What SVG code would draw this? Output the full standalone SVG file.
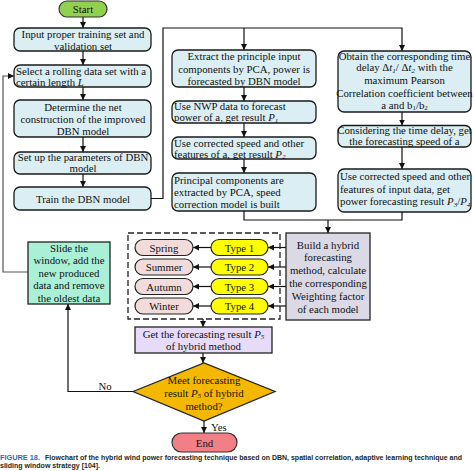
<svg xmlns="http://www.w3.org/2000/svg" width="474" height="471" viewBox="0 0 474 471">
<defs>
<marker id="ah" markerUnits="userSpaceOnUse" markerWidth="6" markerHeight="6" refX="6" refY="3" orient="auto">
<path d="M0,0 L6,3 L0,6 z" fill="#111"/>
</marker>
<style>
.box{fill:#daeef3;stroke:#1a1a1a;stroke-width:1.3}
.pl{stroke:#222;stroke-width:1.2}
.t{font-family:"Liberation Serif","Times New Roman",serif;font-size:10.8px;fill:#111}
.c{text-anchor:middle}
.i{font-style:italic}
.s{font-size:7px;font-style:italic}
.cn{fill:none;stroke:#111;stroke-width:1.2}
.ar{marker-end:url(#ah)}
.cap{font-family:"Liberation Sans",Arial,sans-serif;font-weight:bold;font-size:7.2px}
</style>
</defs>
<rect width="474" height="471" fill="#fff"/>

<g id="connectors">
<path class="cn ar" d="M83,17 V28"/>
<path class="cn ar" d="M83,51 V65"/>
<path class="cn ar" d="M83,87 V100"/>
<path class="cn ar" d="M83,137 V152"/>
<path class="cn ar" d="M83,174 V187"/>
<path class="cn ar" d="M151,198.5 H163 V28 H402 V51"/>
<path class="cn ar" d="M244,28 V50"/>
<path class="cn ar" d="M244,87 V101"/>
<path class="cn ar" d="M244,123 V137"/>
<path class="cn ar" d="M244,159 V173"/>
<path class="cn ar" d="M402,112 V125.5"/>
<path class="cn ar" d="M402,147 V169"/>
<path class="cn" d="M244,211 V220 H402 V212"/>
<path class="cn ar" d="M328,220 V233"/>
<path class="cn ar" d="M286,247.5 H268"/>
<path class="cn ar" d="M286,267 H268"/>
<path class="cn ar" d="M286,286.5 H268"/>
<path class="cn ar" d="M286,306 H268"/>
<path class="cn ar" d="M211,247.5 H193"/>
<path class="cn ar" d="M211,267 H193"/>
<path class="cn ar" d="M211,286.5 H193"/>
<path class="cn ar" d="M211,306 H193"/>
<path class="cn ar" d="M203,319 V327"/>
<path class="cn ar" d="M203,353 V363"/>
<path class="cn ar" d="M204,421 V433"/>
<path class="cn ar" d="M133,391.5 H68 V304"/>
<path class="cn ar" d="M28,272 H3 V76 H14" style="stroke:#555"/>
</g>

<g id="start">
<rect x="59" y="1" width="48" height="16" rx="8" fill="#92d050" stroke="#333" stroke-width="1.2"/>
<text class="t c" x="83" y="13">Start</text>
</g>

<g id="n1">
<rect class="box" x="14" y="28" width="137" height="23" rx="6"/>
<text class="t c" x="83" y="37.5">Input proper training set and</text>
<text class="t c" x="83" y="49.5">validation set</text>
</g>
<g id="n2">
<rect class="box" x="14" y="65" width="137" height="22" rx="6"/>
<text class="t" x="16" y="74.5">Select a rolling data set with a</text>
<text class="t" x="16" y="85.5">certain length <tspan class="i">L</tspan></text>
</g>
<g id="n3">
<rect class="box" x="14" y="100" width="137" height="37" rx="6"/>
<text class="t c" x="83" y="111">Determine the net</text>
<text class="t c" x="83" y="123">construction of the improved</text>
<text class="t c" x="83" y="134.5">DBN model</text>
</g>
<g id="n4">
<rect class="box" x="14" y="152" width="137" height="22" rx="6"/>
<text class="t c" x="83" y="161">Set up the parameters of DBN</text>
<text class="t c" x="83" y="172">model</text>
</g>
<g id="n5">
<rect class="box" x="14" y="187" width="137" height="23" rx="6"/>
<text class="t c" x="83" y="202.5">Train the DBN model</text>
</g>

<g id="n6">
<rect class="box" x="172" y="50" width="144" height="37" rx="6"/>
<text class="t c" x="244" y="60">Extract the principle input</text>
<text class="t c" x="244" y="72.5">components by PCA, power is</text>
<text class="t c" x="244" y="85">forecasted by DBN model</text>
</g>
<g id="n7">
<rect class="box" x="172" y="101" width="144" height="22" rx="6"/>
<text class="t" x="174" y="110">Use NWP data to forecast</text>
<text class="t" x="174" y="121">power of a, get result <tspan class="i">P</tspan><tspan class="s" dy="1.5">1</tspan></text>
</g>
<g id="n8">
<rect class="box" x="172" y="137" width="144" height="22" rx="6"/>
<text class="t" x="174" y="146.5">Use corrected speed and other</text>
<text class="t" x="174" y="157.5">features of a, get result <tspan class="i">P</tspan><tspan class="s" dy="1.5">2</tspan></text>
</g>
<g id="n9">
<rect class="box" x="172" y="173" width="144" height="38" rx="6"/>
<text class="t" x="174" y="184">Principal components are</text>
<text class="t" x="174" y="196">extracted by PCA, speed</text>
<text class="t" x="174" y="207.5">correction model is built</text>
</g>

<g id="n10">
<rect class="box" x="338" y="51" width="133" height="61" rx="6"/>
<text class="t c" x="404.5" y="59.5">Obtain the corresponding time</text>
<text class="t c" x="404.5" y="71">delay Δ<tspan class="i">t</tspan><tspan class="s" dy="1.5">1</tspan><tspan dy="-1.5">/ Δ</tspan><tspan class="i">t</tspan><tspan class="s" dy="1.5">2</tspan><tspan dy="-1.5"> with the</tspan></text>
<text class="t c" x="404.5" y="84">maximum Pearson</text>
<text class="t c" x="404.5" y="96.5">Correlation coefficient between</text>
<text class="t c" x="404.5" y="108.5">a and b<tspan font-size="7" dy="1.5">1</tspan><tspan dy="-1.5">/b</tspan><tspan font-size="7" dy="1.5">2</tspan></text>
</g>
<g id="n11">
<rect class="box" x="338" y="125.5" width="133" height="21.5" rx="6"/>
<text class="t c" x="404.5" y="134">Considering the time delay, get</text>
<text class="t c" x="404.5" y="145">the forecasting speed of a</text>
</g>
<g id="n12">
<rect class="box" x="338" y="169" width="133" height="43" rx="6"/>
<text class="t" x="340" y="180">Use corrected speed and other</text>
<text class="t" x="340" y="192.5">features of input data, get</text>
<text class="t" x="340" y="205">power forecasting result <tspan class="i">P</tspan><tspan class="s" dy="1.5">3</tspan><tspan dy="-1.5">/</tspan><tspan class="i">P</tspan><tspan class="s" dy="1.5">4</tspan></text>
</g>

<g id="hybrid">
<rect x="286" y="233" width="84" height="87" fill="#dcd9e6" stroke="#222" stroke-width="1.3"/>
<text class="t c" x="328" y="248.5">Build a hybrid</text>
<text class="t c" x="328" y="261.4">forecasting</text>
<text class="t c" x="328" y="274.3">method, calculate</text>
<text class="t c" x="328" y="287.2">the corresponding</text>
<text class="t c" x="328" y="300.1">Weighting factor</text>
<text class="t c" x="328" y="313">of each model</text>
</g>

<g id="typegroup">
<rect x="128" y="233" width="152" height="86" fill="none" stroke="#222" stroke-width="1.3" stroke-dasharray="6,3"/>
</g>
<g id="spring"><rect class="pl" x="135" y="239.5" width="58" height="16" rx="8" fill="#f2dcdb"/><text class="t c" x="164" y="251.5">Spring</text></g>
<g id="summer"><rect class="pl" x="135" y="259" width="58" height="16" rx="8" fill="#f2dcdb"/><text class="t c" x="164" y="271">Summer</text></g>
<g id="autumn"><rect class="pl" x="135" y="278.5" width="58" height="16" rx="8" fill="#f2dcdb"/><text class="t c" x="164" y="290.5">Autumn</text></g>
<g id="winter"><rect class="pl" x="135" y="298" width="58" height="16" rx="8" fill="#f2dcdb"/><text class="t c" x="164" y="310">Winter</text></g>
<g id="type1"><rect class="pl" x="211" y="239.5" width="57" height="16" rx="8" fill="#ffff00"/><text class="t c" x="239.5" y="251.5">Type 1</text></g>
<g id="type2"><rect class="pl" x="211" y="259" width="57" height="16" rx="8" fill="#ffff00"/><text class="t c" x="239.5" y="271">Type 2</text></g>
<g id="type3"><rect class="pl" x="211" y="278.5" width="57" height="16" rx="8" fill="#ffff00"/><text class="t c" x="239.5" y="290.5">Type 3</text></g>
<g id="type4"><rect class="pl" x="211" y="298" width="57" height="16" rx="8" fill="#ffff00"/><text class="t c" x="239.5" y="310">Type 4</text></g>

<g id="slide">
<rect x="28" y="242" width="82" height="62" fill="#a9f0d6" stroke="#222" stroke-width="1.3"/>
<text class="t c" x="69" y="251.5">Slide the</text>
<text class="t c" x="69" y="264">window, add the</text>
<text class="t c" x="69" y="276.5">new produced</text>
<text class="t c" x="69" y="289">data and remove</text>
<text class="t c" x="69" y="301.5">the oldest data</text>
</g>

<g id="getresult">
<rect x="135" y="327" width="137" height="26" fill="#e6dcfa" stroke="#222" stroke-width="1.3"/>
<text class="t c" x="203.5" y="337.5">Get the forecasting result <tspan class="i">P</tspan><tspan class="s" dy="1.5">5</tspan></text>
<text class="t c" x="203.5" y="349.5">of hybrid method</text>
</g>

<g id="decision">
<polygon points="133,391.5 204,363 275,391.5 204,421" fill="#f5b800" stroke="#222" stroke-width="1.3"/>
<text class="t c" x="204" y="384">Meet forecasting</text>
<text class="t c" x="204" y="396.5">result <tspan class="i">P</tspan><tspan class="s" dy="1.5">5</tspan><tspan dy="-1.5"> of hybrid</tspan></text>
<text class="t c" x="204" y="409.5">method?</text>
</g>
<text class="t c" x="105" y="390">No</text>
<text class="t" x="211" y="431">Yes</text>

<g id="end">
<rect x="172" y="433" width="65" height="19" rx="9.5" fill="#f27f86" stroke="#333" stroke-width="1.2"/>
<text class="t c" x="204.5" y="446.5">End</text>
</g>

<g id="caption">
<text class="cap" x="0" y="459.5" fill="#2b6cb0" textLength="40" lengthAdjust="spacingAndGlyphs">FIGURE 18.</text>
<text class="cap" x="45" y="459.5" fill="#231f20" textLength="417" lengthAdjust="spacingAndGlyphs">Flowchart of the hybrid wind power forecasting technique based on DBN, spatial correlation, adaptive learning technique and</text>
<text class="cap" x="0" y="467.5" fill="#231f20" textLength="100" lengthAdjust="spacingAndGlyphs">sliding window strategy [104].</text>
</g>
</svg>
